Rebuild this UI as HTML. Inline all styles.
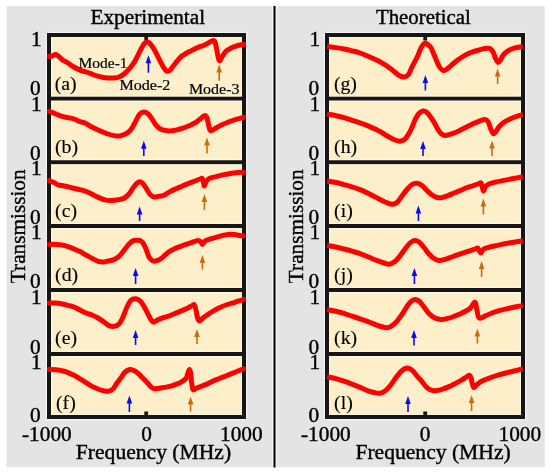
<!DOCTYPE html>
<html><head><meta charset="utf-8"><style>html,body{margin:0;padding:0;background:#fff;width:550px;height:474px;overflow:hidden}svg{display:block}</style></head>
<body><svg width="550" height="474" viewBox="0 0 550 474">
<rect x="0" y="0" width="550" height="474" fill="#fff"/>
<rect x="6.5" y="6" width="538.2" height="461" fill="#e4e4e4"/>
<rect x="272.0" y="6" width="1.5" height="461.5" fill="#fff" fill-opacity="0.6"/>
<rect x="275.6" y="6" width="1.5" height="461.5" fill="#fff" fill-opacity="0.6"/>
<rect x="273.5" y="6" width="2.0" height="461.5" fill="#000"/>
<rect x="49" y="35" width="195" height="382" fill="#fdefca"/>
<rect x="327" y="35" width="196" height="382" fill="#fdefca"/>
<rect x="47" y="96.6" width="199" height="4" fill="#161616"/>
<rect x="47" y="160.2" width="199" height="4" fill="#161616"/>
<rect x="47" y="224" width="199" height="4" fill="#161616"/>
<rect x="47" y="288" width="199" height="4" fill="#161616"/>
<rect x="47" y="352" width="199" height="4" fill="#161616"/>
<rect x="49" y="35" width="195" height="382" fill="none" stroke="#161616" stroke-width="4"/>
<rect x="46.4" y="32.4" width="200.2" height="387.2" fill="none" stroke="#fff" stroke-opacity="0.55" stroke-width="1.2"/>
<rect x="51.6" y="37.6" width="189.8" height="58.39999999999999" fill="none" stroke="#fff" stroke-opacity="0.45" stroke-width="1.2"/>
<rect x="51.6" y="101.19999999999999" width="189.8" height="58.39999999999999" fill="none" stroke="#fff" stroke-opacity="0.45" stroke-width="1.2"/>
<rect x="51.6" y="164.79999999999998" width="189.8" height="58.60000000000001" fill="none" stroke="#fff" stroke-opacity="0.45" stroke-width="1.2"/>
<rect x="51.6" y="228.6" width="189.8" height="58.8" fill="none" stroke="#fff" stroke-opacity="0.45" stroke-width="1.2"/>
<rect x="51.6" y="292.6" width="189.8" height="58.8" fill="none" stroke="#fff" stroke-opacity="0.45" stroke-width="1.2"/>
<rect x="51.6" y="356.6" width="189.8" height="57.8" fill="none" stroke="#fff" stroke-opacity="0.45" stroke-width="1.2"/>
<rect x="144.29999999999998" y="35" width="3.8" height="5.5" fill="#161616"/>
<rect x="144.29999999999998" y="411.5" width="3.8" height="5.5" fill="#161616"/>
<rect x="325" y="96.6" width="200" height="4" fill="#161616"/>
<rect x="325" y="160.2" width="200" height="4" fill="#161616"/>
<rect x="325" y="224" width="200" height="4" fill="#161616"/>
<rect x="325" y="288" width="200" height="4" fill="#161616"/>
<rect x="325" y="352" width="200" height="4" fill="#161616"/>
<rect x="327" y="35" width="196" height="382" fill="none" stroke="#161616" stroke-width="4"/>
<rect x="324.4" y="32.4" width="201.2" height="387.2" fill="none" stroke="#fff" stroke-opacity="0.55" stroke-width="1.2"/>
<rect x="329.6" y="37.6" width="190.8" height="58.39999999999999" fill="none" stroke="#fff" stroke-opacity="0.45" stroke-width="1.2"/>
<rect x="329.6" y="101.19999999999999" width="190.8" height="58.39999999999999" fill="none" stroke="#fff" stroke-opacity="0.45" stroke-width="1.2"/>
<rect x="329.6" y="164.79999999999998" width="190.8" height="58.60000000000001" fill="none" stroke="#fff" stroke-opacity="0.45" stroke-width="1.2"/>
<rect x="329.6" y="228.6" width="190.8" height="58.8" fill="none" stroke="#fff" stroke-opacity="0.45" stroke-width="1.2"/>
<rect x="329.6" y="292.6" width="190.8" height="58.8" fill="none" stroke="#fff" stroke-opacity="0.45" stroke-width="1.2"/>
<rect x="329.6" y="356.6" width="190.8" height="57.8" fill="none" stroke="#fff" stroke-opacity="0.45" stroke-width="1.2"/>
<rect x="423.3" y="35" width="3.8" height="5.5" fill="#161616"/>
<rect x="423.3" y="411.5" width="3.8" height="5.5" fill="#161616"/>
<path d="M49.30,56.50 C49.75,56.42 50.97,56.33 52.00,56.00 C53.03,55.67 54.50,54.53 55.50,54.50 C56.50,54.47 56.75,54.85 58.00,55.80 C59.25,56.75 61.33,59.00 63.00,60.20 C64.67,61.40 66.33,61.95 68.00,63.00 C69.67,64.05 71.33,65.47 73.00,66.50 C74.67,67.53 76.33,68.42 78.00,69.20 C79.67,69.98 81.33,70.65 83.00,71.20 C84.67,71.75 86.33,71.95 88.00,72.50 C89.67,73.05 91.33,73.88 93.00,74.50 C94.67,75.12 96.33,75.70 98.00,76.20 C99.67,76.70 101.33,77.20 103.00,77.50 C104.67,77.80 106.17,77.92 108.00,78.00 C109.83,78.08 112.17,78.17 114.00,78.00 C115.83,77.83 117.33,77.67 119.00,77.00 C120.67,76.33 122.17,75.50 124.00,74.00 C125.83,72.50 128.17,70.17 130.00,68.00 C131.83,65.83 133.50,63.50 135.00,61.00 C136.50,58.50 138.17,54.67 139.00,53.00 C139.83,51.33 139.17,52.50 140.00,51.00 C140.83,49.50 142.83,45.50 144.00,44.00 C145.17,42.50 146.00,42.08 147.00,42.00 C148.00,41.92 148.75,42.17 150.00,43.50 C151.25,44.83 152.98,47.40 154.50,50.00 C156.02,52.60 157.58,56.22 159.10,59.10 C160.62,61.98 162.32,65.28 163.60,67.30 C164.88,69.32 165.73,70.72 166.80,71.20 C167.87,71.68 169.02,70.93 170.00,70.20 C170.98,69.47 171.48,68.35 172.70,66.80 C173.92,65.25 175.93,62.57 177.30,60.90 C178.67,59.23 179.85,57.78 180.90,56.80 C181.95,55.82 182.68,55.60 183.60,55.00 C184.52,54.40 185.18,53.88 186.40,53.20 C187.62,52.52 189.38,51.67 190.90,50.90 C192.42,50.13 193.98,49.32 195.50,48.60 C197.02,47.88 198.58,47.15 200.00,46.60 C201.42,46.05 202.50,45.97 204.00,45.30 C205.50,44.63 207.50,43.42 209.00,42.60 C210.50,41.78 212.00,40.50 213.00,40.40 C214.00,40.30 214.33,40.23 215.00,42.00 C215.67,43.77 216.40,48.17 217.00,51.00 C217.60,53.83 218.10,57.40 218.60,59.00 C219.10,60.60 219.43,60.93 220.00,60.60 C220.57,60.27 221.00,58.57 222.00,57.00 C223.00,55.43 224.33,52.77 226.00,51.20 C227.67,49.63 230.00,48.55 232.00,47.60 C234.00,46.65 236.07,46.05 238.00,45.50 C239.93,44.95 242.67,44.50 243.60,44.30" fill="none" stroke="#ff0000" stroke-width="5" stroke-linejoin="round" stroke-linecap="round"/>
<path d="M148.40,55.20 L151.20,63.20 L149.20,63.20 L149.20,72.70 L147.60,72.70 L147.60,63.20 L145.60,63.20 Z" fill="#0a0af5"/>
<path d="M219.20,64.60 L222.00,72.60 L220.00,72.60 L220.00,80.70 L218.40,80.70 L218.40,72.60 L216.40,72.60 Z" fill="#c96c14"/>
<path d="M49.30,111.32 C50.42,111.77 53.88,113.15 56.00,114.00 C58.12,114.85 60.00,115.80 62.00,116.40 C64.00,117.00 66.00,117.17 68.00,117.60 C70.00,118.03 72.00,118.33 74.00,119.00 C76.00,119.67 78.17,120.93 80.00,121.60 C81.83,122.27 83.33,122.27 85.00,123.00 C86.67,123.73 88.17,125.00 90.00,126.00 C91.83,127.00 94.00,128.07 96.00,129.00 C98.00,129.93 100.00,130.77 102.00,131.60 C104.00,132.43 106.00,133.33 108.00,134.00 C110.00,134.67 112.00,135.27 114.00,135.60 C116.00,135.93 118.17,136.23 120.00,136.00 C121.83,135.77 123.67,134.78 125.00,134.20 C126.33,133.62 126.90,133.43 128.00,132.50 C129.10,131.57 130.35,130.42 131.60,128.60 C132.85,126.78 134.22,123.93 135.50,121.60 C136.78,119.27 137.93,116.18 139.30,114.60 C140.67,113.02 142.22,112.20 143.70,112.10 C145.18,112.00 146.82,112.85 148.20,114.00 C149.58,115.15 150.73,117.20 152.00,119.00 C153.27,120.80 154.32,123.08 155.80,124.80 C157.28,126.52 158.98,128.30 160.90,129.30 C162.82,130.30 165.12,130.58 167.30,130.80 C169.48,131.02 171.88,130.90 174.00,130.60 C176.12,130.30 178.00,129.60 180.00,129.00 C182.00,128.40 184.00,127.77 186.00,127.00 C188.00,126.23 190.17,125.30 192.00,124.40 C193.83,123.50 195.33,122.77 197.00,121.60 C198.67,120.43 200.67,118.40 202.00,117.40 C203.33,116.40 204.17,115.50 205.00,115.60 C205.83,115.70 206.43,116.60 207.00,118.00 C207.57,119.40 207.90,122.00 208.40,124.00 C208.90,126.00 209.40,128.93 210.00,130.00 C210.60,131.07 211.00,130.73 212.00,130.40 C213.00,130.07 214.33,128.93 216.00,128.00 C217.67,127.07 220.00,125.75 222.00,124.80 C224.00,123.85 226.00,123.10 228.00,122.30 C230.00,121.50 232.00,120.67 234.00,120.00 C236.00,119.33 238.40,118.73 240.00,118.30 C241.60,117.87 243.00,117.55 243.60,117.40" fill="none" stroke="#ff0000" stroke-width="5" stroke-linejoin="round" stroke-linecap="round"/>
<path d="M143.80,140.80 L146.60,148.80 L144.60,148.80 L144.60,156.00 L143.00,156.00 L143.00,148.80 L141.00,148.80 Z" fill="#0a0af5"/>
<path d="M207.00,137.60 L209.80,145.60 L207.80,145.60 L207.80,153.60 L206.20,153.60 L206.20,145.60 L204.20,145.60 Z" fill="#c96c14"/>
<path d="M49.30,180.60 C50.08,180.93 52.55,181.90 54.00,182.60 C55.45,183.30 56.33,184.23 58.00,184.80 C59.67,185.37 62.00,185.57 64.00,186.00 C66.00,186.43 68.00,186.95 70.00,187.40 C72.00,187.85 74.00,188.23 76.00,188.70 C78.00,189.17 80.00,189.60 82.00,190.20 C84.00,190.80 86.00,191.47 88.00,192.30 C90.00,193.13 92.00,194.23 94.00,195.20 C96.00,196.17 98.00,197.28 100.00,198.10 C102.00,198.92 104.00,199.72 106.00,200.10 C108.00,200.48 110.00,200.45 112.00,200.40 C114.00,200.35 116.00,200.17 118.00,199.80 C120.00,199.43 122.17,199.17 124.00,198.20 C125.83,197.23 127.50,195.70 129.00,194.00 C130.50,192.30 131.67,189.80 133.00,188.00 C134.33,186.20 135.83,184.25 137.00,183.20 C138.17,182.15 139.00,181.60 140.00,181.70 C141.00,181.80 142.00,182.75 143.00,183.80 C144.00,184.85 144.83,186.23 146.00,188.00 C147.17,189.77 148.67,192.90 150.00,194.40 C151.33,195.90 152.67,196.67 154.00,197.00 C155.33,197.33 156.33,196.70 158.00,196.40 C159.67,196.10 162.00,196.00 164.00,195.20 C166.00,194.40 168.00,192.67 170.00,191.60 C172.00,190.53 174.00,189.70 176.00,188.80 C178.00,187.90 180.00,187.07 182.00,186.20 C184.00,185.33 186.00,184.40 188.00,183.60 C190.00,182.80 192.00,182.17 194.00,181.40 C196.00,180.63 198.60,179.47 200.00,179.00 C201.40,178.53 201.80,177.97 202.40,178.60 C203.00,179.23 203.27,181.57 203.60,182.80 C203.93,184.03 204.00,186.13 204.40,186.00 C204.80,185.87 205.23,183.23 206.00,182.00 C206.77,180.77 207.33,179.50 209.00,178.60 C210.67,177.70 213.50,177.27 216.00,176.60 C218.50,175.93 221.33,175.17 224.00,174.60 C226.67,174.03 229.33,173.58 232.00,173.20 C234.67,172.82 238.07,172.47 240.00,172.30 C241.93,172.14 243.00,172.22 243.60,172.21" fill="none" stroke="#ff0000" stroke-width="5" stroke-linejoin="round" stroke-linecap="round"/>
<path d="M139.60,206.40 L142.40,214.40 L140.40,214.40 L140.40,221.00 L138.80,221.00 L138.80,214.40 L136.80,214.40 Z" fill="#0a0af5"/>
<path d="M204.40,194.00 L207.20,202.00 L205.20,202.00 L205.20,210.00 L203.60,210.00 L203.60,202.00 L201.60,202.00 Z" fill="#c96c14"/>
<path d="M49.30,244.40 C50.42,244.40 53.88,244.30 56.00,244.40 C58.12,244.50 60.00,244.63 62.00,245.00 C64.00,245.37 66.00,245.93 68.00,246.60 C70.00,247.27 72.00,248.17 74.00,249.00 C76.00,249.83 78.00,250.60 80.00,251.60 C82.00,252.60 84.00,253.87 86.00,255.00 C88.00,256.13 90.00,257.33 92.00,258.40 C94.00,259.47 96.17,260.80 98.00,261.40 C99.83,262.00 101.33,262.07 103.00,262.00 C104.67,261.93 106.17,261.40 108.00,261.00 C109.83,260.60 112.17,260.37 114.00,259.60 C115.83,258.83 117.33,257.93 119.00,256.40 C120.67,254.87 122.33,252.47 124.00,250.40 C125.67,248.33 127.33,245.67 129.00,244.00 C130.67,242.33 132.50,241.00 134.00,240.40 C135.50,239.80 137.00,240.40 138.00,240.40 C139.00,240.40 139.17,239.97 140.00,240.40 C140.83,240.83 142.00,241.57 143.00,243.00 C144.00,244.43 145.00,246.67 146.00,249.00 C147.00,251.33 147.83,255.00 149.00,257.00 C150.17,259.00 151.67,260.40 153.00,261.00 C154.33,261.60 155.50,261.10 157.00,260.60 C158.50,260.10 160.17,259.37 162.00,258.00 C163.83,256.63 166.00,253.90 168.00,252.40 C170.00,250.90 172.00,249.97 174.00,249.00 C176.00,248.03 178.00,247.37 180.00,246.60 C182.00,245.83 184.00,245.10 186.00,244.40 C188.00,243.70 190.00,243.07 192.00,242.40 C194.00,241.73 196.57,240.53 198.00,240.40 C199.43,240.27 199.87,240.93 200.60,241.60 C201.33,242.27 201.67,244.50 202.40,244.40 C203.13,244.30 203.73,241.90 205.00,241.00 C206.27,240.10 208.17,239.60 210.00,239.00 C211.83,238.40 214.00,237.97 216.00,237.40 C218.00,236.83 220.00,236.10 222.00,235.60 C224.00,235.10 226.00,234.57 228.00,234.40 C230.00,234.23 232.00,234.43 234.00,234.60 C236.00,234.77 238.40,235.18 240.00,235.40 C241.60,235.62 243.00,235.85 243.60,235.94" fill="none" stroke="#ff0000" stroke-width="5" stroke-linejoin="round" stroke-linecap="round"/>
<path d="M135.60,268.00 L138.40,276.00 L136.40,276.00 L136.40,284.00 L134.80,284.00 L134.80,276.00 L132.80,276.00 Z" fill="#0a0af5"/>
<path d="M202.40,255.00 L205.20,263.00 L203.20,263.00 L203.20,269.60 L201.60,269.60 L201.60,263.00 L199.60,263.00 Z" fill="#c96c14"/>
<path d="M49.30,303.00 C50.42,303.00 53.88,302.83 56.00,303.00 C58.12,303.17 60.00,303.60 62.00,304.00 C64.00,304.40 66.00,304.90 68.00,305.40 C70.00,305.90 72.00,306.23 74.00,307.00 C76.00,307.77 78.00,309.00 80.00,310.00 C82.00,311.00 84.00,312.17 86.00,313.00 C88.00,313.83 90.00,314.17 92.00,315.00 C94.00,315.83 96.00,316.83 98.00,318.00 C100.00,319.17 102.17,320.73 104.00,322.00 C105.83,323.27 107.33,324.87 109.00,325.60 C110.67,326.33 112.33,326.67 114.00,326.40 C115.67,326.13 117.50,325.57 119.00,324.00 C120.50,322.43 121.67,319.83 123.00,317.00 C124.33,314.17 125.67,309.78 127.00,307.00 C128.33,304.22 129.57,301.67 131.00,300.30 C132.43,298.93 133.98,298.60 135.60,298.80 C137.22,299.00 139.22,300.08 140.70,301.50 C142.18,302.92 143.22,305.07 144.50,307.30 C145.78,309.53 147.23,312.70 148.40,314.90 C149.57,317.10 150.57,319.28 151.50,320.50 C152.43,321.72 152.92,322.32 154.00,322.20 C155.08,322.08 156.33,320.60 158.00,319.80 C159.67,319.00 162.00,318.10 164.00,317.40 C166.00,316.70 168.00,316.33 170.00,315.60 C172.00,314.87 174.00,313.83 176.00,313.00 C178.00,312.17 180.00,311.43 182.00,310.60 C184.00,309.77 186.27,308.87 188.00,308.00 C189.73,307.13 191.33,305.90 192.40,305.40 C193.47,304.90 193.80,304.23 194.40,305.00 C195.00,305.77 195.47,307.83 196.00,310.00 C196.53,312.17 197.00,316.17 197.60,318.00 C198.20,319.83 198.70,321.00 199.60,321.00 C200.50,321.00 201.60,319.10 203.00,318.00 C204.40,316.90 206.17,315.63 208.00,314.40 C209.83,313.17 212.00,311.75 214.00,310.60 C216.00,309.45 218.00,308.43 220.00,307.50 C222.00,306.57 224.00,305.72 226.00,305.00 C228.00,304.28 230.00,303.83 232.00,303.20 C234.00,302.57 236.07,301.83 238.00,301.20 C239.93,300.57 242.67,299.72 243.60,299.43" fill="none" stroke="#ff0000" stroke-width="5" stroke-linejoin="round" stroke-linecap="round"/>
<path d="M135.60,330.00 L138.40,338.00 L136.40,338.00 L136.40,345.00 L134.80,345.00 L134.80,338.00 L132.80,338.00 Z" fill="#0a0af5"/>
<path d="M197.00,329.00 L199.80,337.00 L197.80,337.00 L197.80,344.00 L196.20,344.00 L196.20,337.00 L194.20,337.00 Z" fill="#c96c14"/>
<path d="M49.30,369.60 C50.42,369.63 53.88,369.60 56.00,369.80 C58.12,370.00 60.00,370.33 62.00,370.80 C64.00,371.27 66.00,371.85 68.00,372.60 C70.00,373.35 72.00,374.27 74.00,375.30 C76.00,376.33 78.00,377.58 80.00,378.80 C82.00,380.02 84.00,381.33 86.00,382.60 C88.00,383.87 90.00,385.33 92.00,386.40 C94.00,387.47 96.17,388.30 98.00,389.00 C99.83,389.70 101.33,390.22 103.00,390.60 C104.67,390.98 106.33,391.57 108.00,391.30 C109.67,391.03 111.50,390.38 113.00,389.00 C114.50,387.62 115.67,384.87 117.00,383.00 C118.33,381.13 119.67,379.60 121.00,377.80 C122.33,376.00 123.52,373.58 125.00,372.20 C126.48,370.82 128.40,369.77 129.90,369.50 C131.40,369.23 132.62,369.93 134.00,370.60 C135.38,371.27 136.95,372.47 138.20,373.50 C139.45,374.53 140.45,375.75 141.50,376.80 C142.55,377.85 143.42,378.68 144.50,379.80 C145.58,380.92 146.92,382.33 148.00,383.50 C149.08,384.67 150.00,385.95 151.00,386.80 C152.00,387.65 152.83,388.33 154.00,388.60 C155.17,388.87 156.33,388.60 158.00,388.40 C159.67,388.20 162.00,387.73 164.00,387.40 C166.00,387.07 168.00,386.90 170.00,386.40 C172.00,385.90 174.00,385.20 176.00,384.40 C178.00,383.60 180.33,382.60 182.00,381.60 C183.67,380.60 185.00,379.83 186.00,378.40 C187.00,376.97 187.43,374.47 188.00,373.00 C188.57,371.53 188.97,369.60 189.40,369.60 C189.83,369.60 190.23,370.93 190.60,373.00 C190.97,375.07 191.20,379.23 191.60,382.00 C192.00,384.77 192.27,388.53 193.00,389.60 C193.73,390.67 194.50,389.00 196.00,388.40 C197.50,387.80 200.00,386.80 202.00,386.00 C204.00,385.20 206.13,384.43 208.00,383.60 C209.87,382.77 211.28,381.85 213.20,381.00 C215.12,380.15 217.37,379.33 219.50,378.50 C221.63,377.67 223.87,376.85 226.00,376.00 C228.13,375.15 230.20,374.27 232.30,373.40 C234.40,372.53 236.72,371.56 238.60,370.80 C240.48,370.04 242.77,369.18 243.60,368.86" fill="none" stroke="#ff0000" stroke-width="5" stroke-linejoin="round" stroke-linecap="round"/>
<path d="M129.40,395.60 L132.20,403.60 L130.20,403.60 L130.20,412.00 L128.60,412.00 L128.60,403.60 L126.60,403.60 Z" fill="#0a0af5"/>
<path d="M190.60,396.40 L193.40,404.40 L191.40,404.40 L191.40,411.60 L189.80,411.60 L189.80,404.40 L187.80,404.40 Z" fill="#c96c14"/>
<path d="M327.00,46.50 C328.50,46.68 333.17,47.18 336.00,47.60 C338.83,48.02 341.33,48.47 344.00,49.00 C346.67,49.53 349.33,50.13 352.00,50.80 C354.67,51.47 357.33,52.10 360.00,53.00 C362.67,53.90 365.33,55.07 368.00,56.20 C370.67,57.33 373.33,58.47 376.00,59.80 C378.67,61.13 381.67,62.80 384.00,64.20 C386.33,65.60 388.17,66.87 390.00,68.20 C391.83,69.53 393.33,70.90 395.00,72.20 C396.67,73.50 398.42,75.20 400.00,76.00 C401.58,76.80 403.08,77.25 404.50,77.00 C405.92,76.75 407.25,76.17 408.50,74.50 C409.75,72.83 410.55,69.92 412.00,67.00 C413.45,64.08 415.62,60.33 417.20,57.00 C418.78,53.67 420.20,49.33 421.50,47.00 C422.80,44.67 423.92,43.37 425.00,43.00 C426.08,42.63 427.00,44.00 428.00,44.80 C429.00,45.60 429.83,45.77 431.00,47.80 C432.17,49.83 433.58,53.80 435.00,57.00 C436.42,60.20 438.02,64.72 439.50,67.00 C440.98,69.28 442.27,70.68 443.90,70.70 C445.53,70.72 447.37,68.60 449.30,67.10 C451.23,65.60 453.18,63.50 455.50,61.70 C457.82,59.90 460.63,57.83 463.20,56.30 C465.77,54.77 468.33,53.53 470.90,52.50 C473.47,51.47 476.02,50.80 478.60,50.10 C481.18,49.40 484.47,48.55 486.40,48.30 C488.33,48.05 489.05,47.90 490.20,48.60 C491.35,49.30 492.40,50.83 493.30,52.50 C494.20,54.17 494.82,56.93 495.60,58.60 C496.38,60.27 497.22,62.23 498.00,62.50 C498.78,62.77 499.40,61.48 500.30,60.20 C501.20,58.92 502.12,56.35 503.40,54.80 C504.68,53.25 506.20,52.02 508.00,50.90 C509.80,49.78 511.70,48.85 514.20,48.10 C516.70,47.35 521.53,46.67 523.00,46.39" fill="none" stroke="#ff0000" stroke-width="5" stroke-linejoin="round" stroke-linecap="butt"/>
<path d="M425.40,75.00 L428.20,83.00 L426.20,83.00 L426.20,90.60 L424.60,90.60 L424.60,83.00 L422.60,83.00 Z" fill="#0a0af5"/>
<path d="M497.60,68.60 L500.40,76.60 L498.40,76.60 L498.40,84.00 L496.80,84.00 L496.80,76.60 L494.80,76.60 Z" fill="#c96c14"/>
<path d="M327.00,113.90 C328.50,114.20 333.17,115.07 336.00,115.70 C338.83,116.33 341.33,116.93 344.00,117.70 C346.67,118.47 349.33,119.43 352.00,120.30 C354.67,121.17 357.33,121.97 360.00,122.90 C362.67,123.83 365.33,124.80 368.00,125.90 C370.67,127.00 374.00,128.58 376.00,129.50 C378.00,130.42 378.50,130.55 380.00,131.40 C381.50,132.25 383.33,133.58 385.00,134.60 C386.67,135.62 388.33,136.60 390.00,137.50 C391.67,138.40 393.33,139.38 395.00,140.00 C396.67,140.62 398.42,141.28 400.00,141.20 C401.58,141.12 403.17,140.53 404.50,139.50 C405.83,138.47 406.83,136.83 408.00,135.00 C409.17,133.17 410.33,131.00 411.50,128.50 C412.67,126.00 413.83,122.42 415.00,120.00 C416.17,117.58 417.17,115.50 418.50,114.00 C419.83,112.50 421.58,111.25 423.00,111.00 C424.42,110.75 425.67,111.42 427.00,112.50 C428.33,113.58 429.75,115.75 431.00,117.50 C432.25,119.25 433.33,121.00 434.50,123.00 C435.67,125.00 436.92,127.75 438.00,129.50 C439.08,131.25 439.83,132.52 441.00,133.50 C442.17,134.48 443.50,135.25 445.00,135.40 C446.50,135.55 448.17,134.92 450.00,134.40 C451.83,133.88 454.00,133.15 456.00,132.30 C458.00,131.45 460.00,130.32 462.00,129.30 C464.00,128.28 466.00,127.20 468.00,126.20 C470.00,125.20 472.00,124.20 474.00,123.30 C476.00,122.40 478.17,121.42 480.00,120.80 C481.83,120.18 483.67,119.48 485.00,119.60 C486.33,119.72 487.10,120.10 488.00,121.50 C488.90,122.90 489.57,126.02 490.40,128.00 C491.23,129.98 492.13,132.73 493.00,133.40 C493.87,134.07 494.60,133.10 495.60,132.00 C496.60,130.90 497.60,128.43 499.00,126.80 C500.40,125.17 502.17,123.50 504.00,122.20 C505.83,120.90 508.00,119.93 510.00,119.00 C512.00,118.07 513.83,117.35 516.00,116.60 C518.17,115.85 521.83,114.85 523.00,114.50" fill="none" stroke="#ff0000" stroke-width="5" stroke-linejoin="round" stroke-linecap="butt"/>
<path d="M423.00,141.00 L425.80,149.00 L423.80,149.00 L423.80,156.00 L422.20,156.00 L422.20,149.00 L420.20,149.00 Z" fill="#0a0af5"/>
<path d="M492.00,140.40 L494.80,148.40 L492.80,148.40 L492.80,156.00 L491.20,156.00 L491.20,148.40 L489.20,148.40 Z" fill="#c96c14"/>
<path d="M327.00,181.00 C328.50,181.25 333.17,181.90 336.00,182.50 C338.83,183.10 341.33,183.88 344.00,184.60 C346.67,185.32 349.33,185.97 352.00,186.80 C354.67,187.63 357.33,188.53 360.00,189.60 C362.67,190.67 365.33,191.90 368.00,193.20 C370.67,194.50 373.17,195.93 376.00,197.40 C378.83,198.87 382.33,200.87 385.00,202.00 C387.67,203.13 390.00,204.12 392.00,204.20 C394.00,204.28 395.33,203.87 397.00,202.50 C398.67,201.13 400.33,198.17 402.00,196.00 C403.67,193.83 405.33,191.42 407.00,189.50 C408.67,187.58 410.33,185.55 412.00,184.50 C413.67,183.45 415.33,183.03 417.00,183.20 C418.67,183.37 420.33,184.28 422.00,185.50 C423.67,186.72 425.33,188.92 427.00,190.50 C428.67,192.08 430.33,193.83 432.00,195.00 C433.67,196.17 435.33,197.07 437.00,197.50 C438.67,197.93 440.17,197.92 442.00,197.60 C443.83,197.28 446.00,196.37 448.00,195.60 C450.00,194.83 452.00,193.83 454.00,193.00 C456.00,192.17 458.00,191.43 460.00,190.60 C462.00,189.77 464.00,188.77 466.00,188.00 C468.00,187.23 470.00,186.67 472.00,186.00 C474.00,185.33 476.50,184.50 478.00,184.00 C479.50,183.50 480.27,182.42 481.00,183.00 C481.73,183.58 481.97,186.17 482.40,187.50 C482.83,188.83 483.07,191.15 483.60,191.00 C484.13,190.85 484.70,187.77 485.60,186.60 C486.50,185.43 487.27,184.77 489.00,184.00 C490.73,183.23 493.50,182.60 496.00,182.00 C498.50,181.40 501.33,180.93 504.00,180.40 C506.67,179.87 508.83,179.42 512.00,178.80 C515.17,178.19 521.17,177.06 523.00,176.71" fill="none" stroke="#ff0000" stroke-width="5" stroke-linejoin="round" stroke-linecap="butt"/>
<path d="M418.40,205.60 L421.20,213.60 L419.20,213.60 L419.20,221.00 L417.60,221.00 L417.60,213.60 L415.60,213.60 Z" fill="#0a0af5"/>
<path d="M483.40,198.40 L486.20,206.40 L484.20,206.40 L484.20,214.40 L482.60,214.40 L482.60,206.40 L480.60,206.40 Z" fill="#c96c14"/>
<path d="M327.00,245.40 C328.50,245.67 333.17,246.40 336.00,247.00 C338.83,247.60 341.33,248.30 344.00,249.00 C346.67,249.70 349.33,250.43 352.00,251.20 C354.67,251.97 357.33,252.67 360.00,253.60 C362.67,254.53 365.33,255.70 368.00,256.80 C370.67,257.90 373.33,259.17 376.00,260.20 C378.67,261.23 381.83,262.33 384.00,263.00 C386.17,263.67 387.17,264.45 389.00,264.20 C390.83,263.95 393.17,262.87 395.00,261.50 C396.83,260.13 398.33,258.08 400.00,256.00 C401.67,253.92 403.33,251.17 405.00,249.00 C406.67,246.83 408.42,244.42 410.00,243.00 C411.58,241.58 413.00,240.67 414.50,240.50 C416.00,240.33 417.42,240.83 419.00,242.00 C420.58,243.17 422.33,245.50 424.00,247.50 C425.67,249.50 427.33,252.17 429.00,254.00 C430.67,255.83 432.33,257.42 434.00,258.50 C435.67,259.58 437.33,260.32 439.00,260.50 C440.67,260.68 442.17,260.08 444.00,259.60 C445.83,259.12 448.00,258.30 450.00,257.60 C452.00,256.90 454.00,256.10 456.00,255.40 C458.00,254.70 460.00,254.07 462.00,253.40 C464.00,252.73 466.00,252.07 468.00,251.40 C470.00,250.73 472.40,249.97 474.00,249.40 C475.60,248.83 476.77,247.83 477.60,248.00 C478.43,248.17 478.43,249.57 479.00,250.40 C479.57,251.23 480.33,253.13 481.00,253.00 C481.67,252.87 482.00,250.47 483.00,249.60 C484.00,248.73 485.17,248.40 487.00,247.80 C488.83,247.20 491.50,246.57 494.00,246.00 C496.50,245.43 499.33,244.93 502.00,244.40 C504.67,243.87 507.33,243.28 510.00,242.80 C512.67,242.32 515.83,241.82 518.00,241.50 C520.17,241.18 522.17,240.98 523.00,240.88" fill="none" stroke="#ff0000" stroke-width="5" stroke-linejoin="round" stroke-linecap="butt"/>
<path d="M414.40,268.00 L417.20,276.00 L415.20,276.00 L415.20,284.00 L413.60,284.00 L413.60,276.00 L411.60,276.00 Z" fill="#0a0af5"/>
<path d="M481.60,261.00 L484.40,269.00 L482.40,269.00 L482.40,277.00 L480.80,277.00 L480.80,269.00 L478.80,269.00 Z" fill="#c96c14"/>
<path d="M327.00,309.60 C328.50,309.87 333.17,310.57 336.00,311.20 C338.83,311.83 341.33,312.57 344.00,313.40 C346.67,314.23 349.33,315.30 352.00,316.20 C354.67,317.10 357.33,317.90 360.00,318.80 C362.67,319.70 365.33,320.60 368.00,321.60 C370.67,322.60 373.50,323.90 376.00,324.80 C378.50,325.70 381.00,326.53 383.00,327.00 C385.00,327.47 386.33,327.93 388.00,327.60 C389.67,327.27 391.33,326.27 393.00,325.00 C394.67,323.73 396.33,322.00 398.00,320.00 C399.67,318.00 401.33,315.50 403.00,313.00 C404.67,310.50 406.50,307.03 408.00,305.00 C409.50,302.97 410.75,301.72 412.00,300.80 C413.25,299.88 414.25,299.38 415.50,299.50 C416.75,299.62 418.08,300.25 419.50,301.50 C420.92,302.75 422.42,305.00 424.00,307.00 C425.58,309.00 427.33,311.75 429.00,313.50 C430.67,315.25 432.33,316.55 434.00,317.50 C435.67,318.45 437.67,318.85 439.00,319.20 C440.33,319.55 440.50,319.73 442.00,319.60 C443.50,319.47 446.00,318.93 448.00,318.40 C450.00,317.87 452.00,317.13 454.00,316.40 C456.00,315.67 458.00,314.90 460.00,314.00 C462.00,313.10 464.27,312.00 466.00,311.00 C467.73,310.00 469.07,309.37 470.40,308.00 C471.73,306.63 473.13,303.60 474.00,302.80 C474.87,302.00 475.10,301.92 475.60,303.20 C476.10,304.48 476.50,308.13 477.00,310.50 C477.50,312.87 477.93,316.15 478.60,317.40 C479.27,318.65 479.93,318.23 481.00,318.00 C482.07,317.77 483.17,316.83 485.00,316.00 C486.83,315.17 489.50,313.93 492.00,313.00 C494.50,312.07 497.33,311.15 500.00,310.40 C502.67,309.65 505.33,309.10 508.00,308.50 C510.67,307.90 513.50,307.32 516.00,306.80 C518.50,306.28 521.83,305.63 523.00,305.40" fill="none" stroke="#ff0000" stroke-width="5" stroke-linejoin="round" stroke-linecap="butt"/>
<path d="M414.00,330.00 L416.80,338.00 L414.80,338.00 L414.80,345.60 L413.20,345.60 L413.20,338.00 L411.20,338.00 Z" fill="#0a0af5"/>
<path d="M477.40,328.40 L480.20,336.40 L478.20,336.40 L478.20,343.60 L476.60,343.60 L476.60,336.40 L474.60,336.40 Z" fill="#c96c14"/>
<path d="M327.00,376.60 C328.50,376.93 333.17,377.83 336.00,378.60 C338.83,379.37 341.33,380.27 344.00,381.20 C346.67,382.13 349.33,383.17 352.00,384.20 C354.67,385.23 357.33,386.30 360.00,387.40 C362.67,388.50 365.50,389.90 368.00,390.80 C370.50,391.70 373.00,392.40 375.00,392.80 C377.00,393.20 378.33,393.50 380.00,393.20 C381.67,392.90 383.33,392.20 385.00,391.00 C386.67,389.80 388.33,388.00 390.00,386.00 C391.67,384.00 393.33,381.27 395.00,379.00 C396.67,376.73 398.33,374.13 400.00,372.40 C401.67,370.67 403.50,369.27 405.00,368.60 C406.50,367.93 407.67,368.00 409.00,368.40 C410.33,368.80 411.67,369.73 413.00,371.00 C414.33,372.27 415.50,374.23 417.00,376.00 C418.50,377.77 420.33,379.67 422.00,381.60 C423.67,383.53 425.33,386.13 427.00,387.60 C428.67,389.07 430.33,389.90 432.00,390.40 C433.67,390.90 435.17,390.83 437.00,390.60 C438.83,390.37 441.00,389.67 443.00,389.00 C445.00,388.33 447.00,387.50 449.00,386.60 C451.00,385.70 453.00,384.63 455.00,383.60 C457.00,382.57 459.17,381.43 461.00,380.40 C462.83,379.37 464.67,378.27 466.00,377.40 C467.33,376.53 468.17,375.17 469.00,375.20 C469.83,375.23 470.43,376.13 471.00,377.60 C471.57,379.07 471.90,382.33 472.40,384.00 C472.90,385.67 473.23,387.52 474.00,387.60 C474.77,387.68 475.67,385.60 477.00,384.50 C478.33,383.40 479.83,382.12 482.00,381.00 C484.17,379.88 487.33,378.77 490.00,377.80 C492.67,376.83 495.33,376.00 498.00,375.20 C500.67,374.40 503.33,373.70 506.00,373.00 C508.67,372.30 511.17,371.73 514.00,371.00 C516.83,370.27 521.50,369.03 523.00,368.64" fill="none" stroke="#ff0000" stroke-width="5" stroke-linejoin="round" stroke-linecap="butt"/>
<path d="M408.00,396.00 L410.80,404.00 L408.80,404.00 L408.80,412.00 L407.20,412.00 L407.20,404.00 L405.20,404.00 Z" fill="#0a0af5"/>
<path d="M471.60,395.00 L474.40,403.00 L472.40,403.00 L472.40,411.00 L470.80,411.00 L470.80,403.00 L468.80,403.00 Z" fill="#c96c14"/>
<g fill="#000" stroke="#000"><text x="90.40" y="24.00" font-size="21.3" stroke-width="0.4" font-family="Liberation Serif, Times New Roman, serif" >Experimental</text>
<text x="376.00" y="23.80" font-size="20.8" stroke-width="0.4" font-family="Liberation Serif, Times New Roman, serif" >Theoretical</text>
<text x="30.90" y="46.40" font-size="21.3" stroke-width="0.4" font-family="Liberation Serif, Times New Roman, serif" >1</text>
<text x="30.10" y="95.20" font-size="21.3" stroke-width="0.4" font-family="Liberation Serif, Times New Roman, serif" >0</text>
<text x="30.90" y="111.10" font-size="21.3" stroke-width="0.4" font-family="Liberation Serif, Times New Roman, serif" >1</text>
<text x="30.10" y="159.90" font-size="21.3" stroke-width="0.4" font-family="Liberation Serif, Times New Roman, serif" >0</text>
<text x="30.90" y="175.30" font-size="21.3" stroke-width="0.4" font-family="Liberation Serif, Times New Roman, serif" >1</text>
<text x="30.10" y="223.60" font-size="21.3" stroke-width="0.4" font-family="Liberation Serif, Times New Roman, serif" >0</text>
<text x="30.90" y="239.40" font-size="21.3" stroke-width="0.4" font-family="Liberation Serif, Times New Roman, serif" >1</text>
<text x="30.10" y="287.90" font-size="21.3" stroke-width="0.4" font-family="Liberation Serif, Times New Roman, serif" >0</text>
<text x="30.90" y="304.40" font-size="21.3" stroke-width="0.4" font-family="Liberation Serif, Times New Roman, serif" >1</text>
<text x="30.10" y="353.80" font-size="21.3" stroke-width="0.4" font-family="Liberation Serif, Times New Roman, serif" >0</text>
<text x="30.90" y="369.40" font-size="21.3" stroke-width="0.4" font-family="Liberation Serif, Times New Roman, serif" >1</text>
<text x="30.10" y="421.60" font-size="21.3" stroke-width="0.4" font-family="Liberation Serif, Times New Roman, serif" >0</text>
<text x="54.70" y="89.60" font-size="19.8" stroke-width="0.15" font-family="Liberation Serif, Times New Roman, serif" >(a)</text>
<text x="55.00" y="153.27" font-size="19.8" stroke-width="0.15" font-family="Liberation Serif, Times New Roman, serif" >(b)</text>
<text x="55.10" y="216.94" font-size="19.8" stroke-width="0.15" font-family="Liberation Serif, Times New Roman, serif" >(c)</text>
<text x="55.10" y="280.61" font-size="19.8" stroke-width="0.15" font-family="Liberation Serif, Times New Roman, serif" >(d)</text>
<text x="55.10" y="344.28" font-size="19.8" stroke-width="0.15" font-family="Liberation Serif, Times New Roman, serif" >(e)</text>
<text x="56.00" y="408.55" font-size="19.8" stroke-width="0.15" font-family="Liberation Serif, Times New Roman, serif" >(f)</text>
<text x="309.40" y="46.40" font-size="21.3" stroke-width="0.4" font-family="Liberation Serif, Times New Roman, serif" >1</text>
<text x="308.60" y="95.20" font-size="21.3" stroke-width="0.4" font-family="Liberation Serif, Times New Roman, serif" >0</text>
<text x="309.40" y="111.10" font-size="21.3" stroke-width="0.4" font-family="Liberation Serif, Times New Roman, serif" >1</text>
<text x="308.60" y="159.90" font-size="21.3" stroke-width="0.4" font-family="Liberation Serif, Times New Roman, serif" >0</text>
<text x="309.40" y="175.30" font-size="21.3" stroke-width="0.4" font-family="Liberation Serif, Times New Roman, serif" >1</text>
<text x="308.60" y="223.60" font-size="21.3" stroke-width="0.4" font-family="Liberation Serif, Times New Roman, serif" >0</text>
<text x="309.40" y="239.40" font-size="21.3" stroke-width="0.4" font-family="Liberation Serif, Times New Roman, serif" >1</text>
<text x="308.60" y="287.90" font-size="21.3" stroke-width="0.4" font-family="Liberation Serif, Times New Roman, serif" >0</text>
<text x="309.40" y="304.40" font-size="21.3" stroke-width="0.4" font-family="Liberation Serif, Times New Roman, serif" >1</text>
<text x="308.60" y="353.80" font-size="21.3" stroke-width="0.4" font-family="Liberation Serif, Times New Roman, serif" >0</text>
<text x="309.40" y="369.40" font-size="21.3" stroke-width="0.4" font-family="Liberation Serif, Times New Roman, serif" >1</text>
<text x="308.60" y="421.60" font-size="21.3" stroke-width="0.4" font-family="Liberation Serif, Times New Roman, serif" >0</text>
<text x="333.90" y="89.60" font-size="19.8" stroke-width="0.15" font-family="Liberation Serif, Times New Roman, serif" >(g)</text>
<text x="334.10" y="153.27" font-size="19.8" stroke-width="0.15" font-family="Liberation Serif, Times New Roman, serif" >(h)</text>
<text x="334.10" y="216.94" font-size="19.8" stroke-width="0.15" font-family="Liberation Serif, Times New Roman, serif" >(i)</text>
<text x="334.10" y="280.61" font-size="19.8" stroke-width="0.15" font-family="Liberation Serif, Times New Roman, serif" >(j)</text>
<text x="334.10" y="344.28" font-size="19.8" stroke-width="0.15" font-family="Liberation Serif, Times New Roman, serif" >(k)</text>
<text x="334.10" y="408.55" font-size="19.8" stroke-width="0.15" font-family="Liberation Serif, Times New Roman, serif" >(l)</text>
<text x="22.00" y="441.10" font-size="21.3" stroke-width="0.4" font-family="Liberation Serif, Times New Roman, serif" >-1000</text>
<text x="141.20" y="441.10" font-size="21.3" stroke-width="0.4" font-family="Liberation Serif, Times New Roman, serif" >0</text>
<text x="220.00" y="441.10" font-size="21.3" stroke-width="0.4" font-family="Liberation Serif, Times New Roman, serif" >1000</text>
<text x="301.00" y="441.10" font-size="21.3" stroke-width="0.4" font-family="Liberation Serif, Times New Roman, serif" >-1000</text>
<text x="419.70" y="441.10" font-size="21.3" stroke-width="0.4" font-family="Liberation Serif, Times New Roman, serif" >0</text>
<text x="498.50" y="441.10" font-size="21.3" stroke-width="0.4" font-family="Liberation Serif, Times New Roman, serif" >1000</text>
<text x="75.80" y="459.30" font-size="21.6" stroke-width="0.4" font-family="Liberation Serif, Times New Roman, serif" >Frequency (MHz)</text>
<text x="355.40" y="459.30" font-size="21.6" stroke-width="0.4" font-family="Liberation Serif, Times New Roman, serif" >Frequency (MHz)</text>
<text transform="translate(24.6,226.3) rotate(-90)" text-anchor="middle" font-size="21.26" stroke-width="0.4" font-family="Liberation Serif, Times New Roman, serif">Transmission</text>
<text transform="translate(302.9,226.3) rotate(-90)" text-anchor="middle" font-size="21.26" stroke-width="0.4" font-family="Liberation Serif, Times New Roman, serif">Transmission</text>
<text x="78.60" y="67.50" font-size="15.4" stroke-width="0.2" font-family="Liberation Serif, Times New Roman, serif" textLength="49.0" lengthAdjust="spacingAndGlyphs">Mode-1</text>
<text x="119.40" y="90.00" font-size="15.4" stroke-width="0.2" font-family="Liberation Serif, Times New Roman, serif" textLength="51.0" lengthAdjust="spacingAndGlyphs">Mode-2</text>
<text x="188.90" y="94.40" font-size="15.4" stroke-width="0.2" font-family="Liberation Serif, Times New Roman, serif" textLength="50.6" lengthAdjust="spacingAndGlyphs">Mode-3</text></g>
</svg></body></html>
